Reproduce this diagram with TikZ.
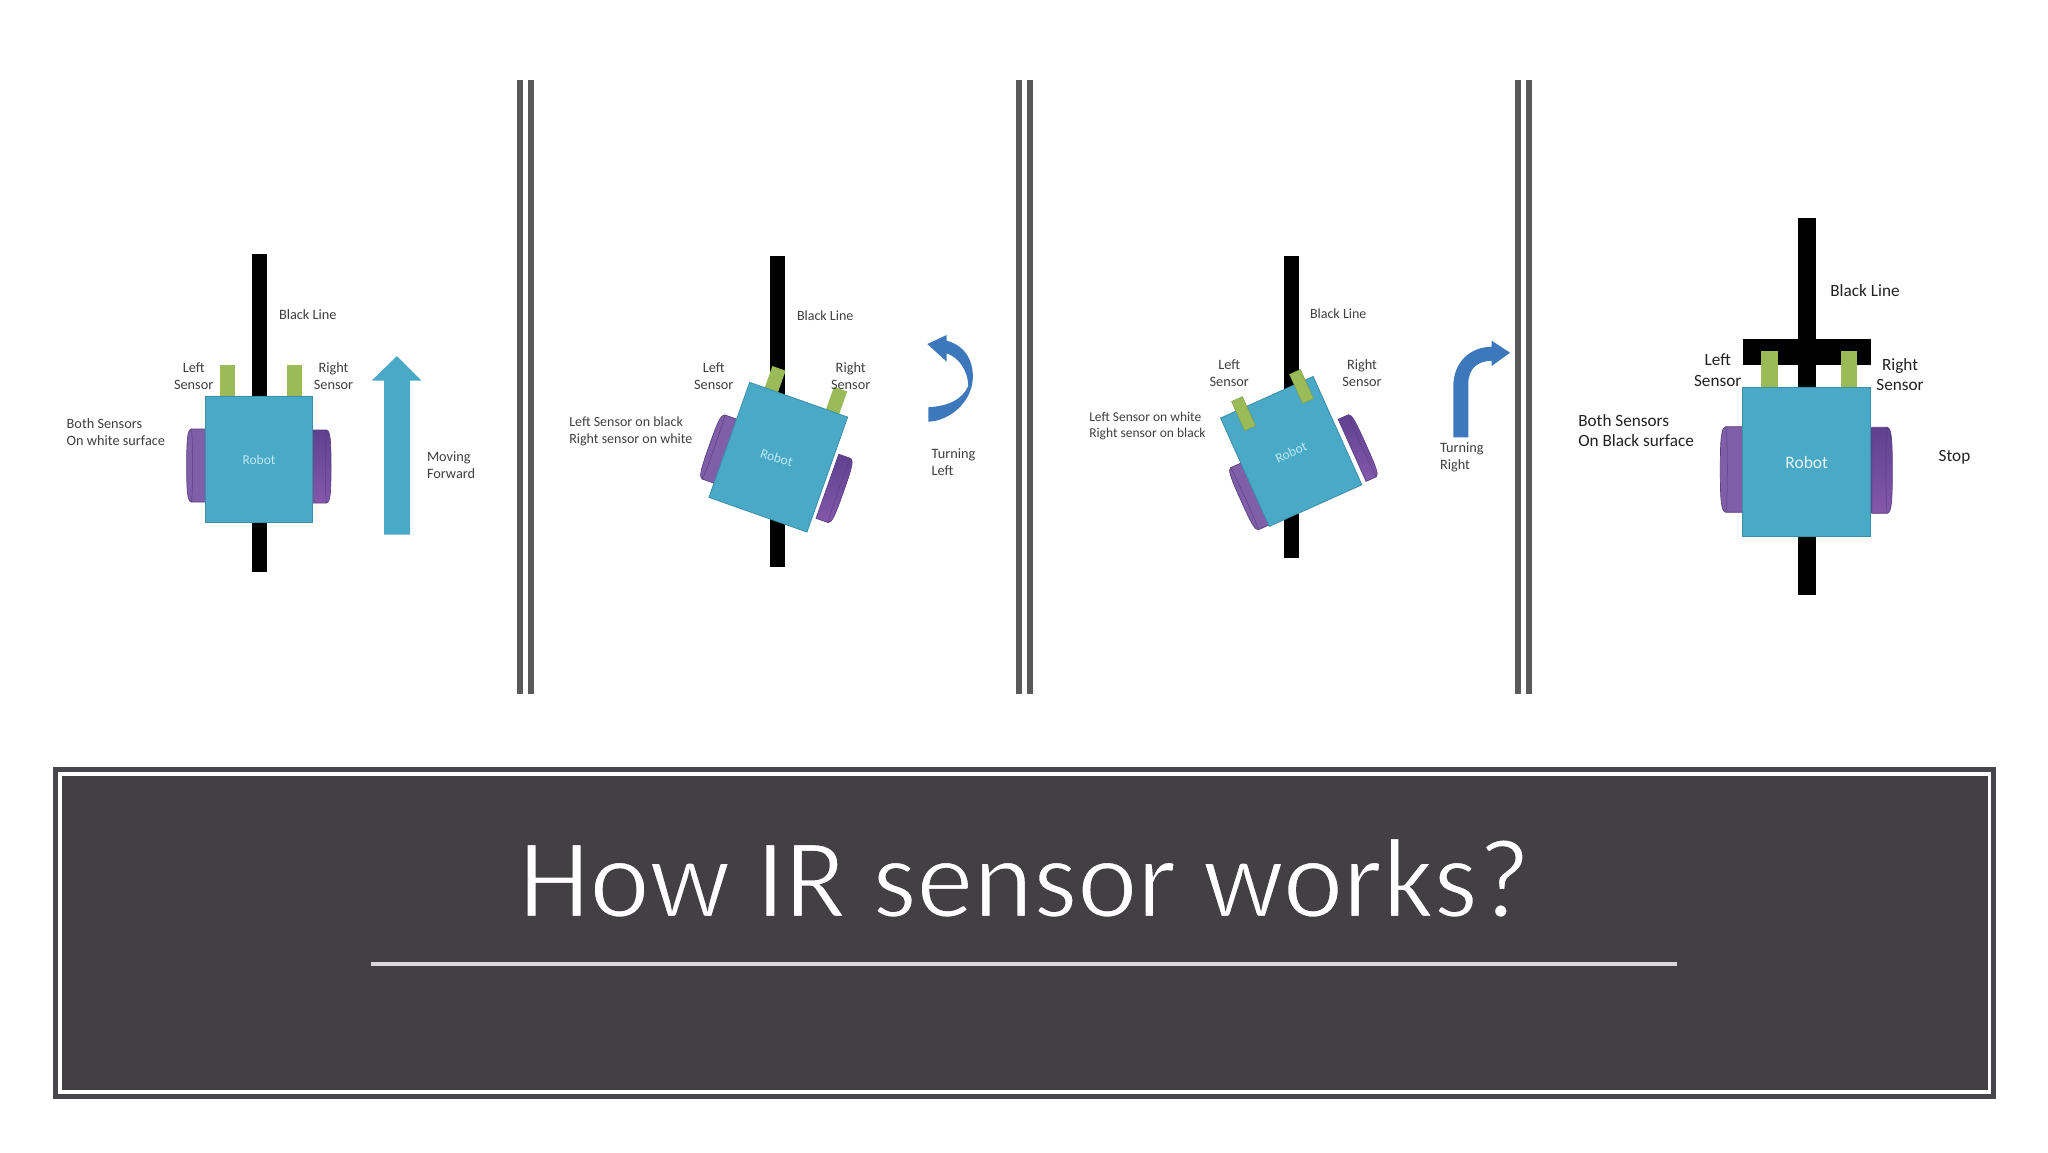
\documentclass[tikz,border=0pt]{standalone}
\usepackage{fontspec}
\setmainfont{Carlito}
\definecolor{panelbg}{HTML}{424043}
\definecolor{framec}{HTML}{47464A}
\definecolor{divc}{HTML}{595959}
\definecolor{robotc}{HTML}{4AA9C6}
\definecolor{roboted}{HTML}{3A8FA9}
\definecolor{sensorc}{HTML}{9BBB59}
\definecolor{wheelA}{HTML}{7E5FA8}
\definecolor{wheelT}{HTML}{5F4190}
\definecolor{wheelB}{HTML}{8458AA}
\definecolor{wheeled}{HTML}{5B3F85}
\definecolor{labelc}{HTML}{3F3F3F}
\definecolor{labeld}{HTML}{222222}
\definecolor{arrowc}{HTML}{3E78BC}
\definecolor{robottxt}{HTML}{BDE8F4}
\tikzset{
  lbl/.style={inner sep=0pt,outer sep=0pt,align=center,text=labelc,font=\fontsize{14.3}{17}\selectfont},
  lblw/.style={lbl,align=left,anchor=west},
  lblbig/.style={inner sep=0pt,outer sep=0pt,align=center,text=labeld,font=\fontsize{17.2}{20.5}\selectfont},
  lblbigw/.style={lblbig,align=left,anchor=west},
  robotbody/.style={fill=robotc,draw=roboted,line width=0.8pt},
  sensorbar/.style={fill=sensorc,draw=none},
  blackbar/.style={fill=black,draw=none},
  divider/.style={fill=divc,draw=none},
  robotlbl/.style={inner sep=0pt,outer sep=0pt,text=robottxt},
  wheelL/.style={fill=wheelA},
  wheelR/.style={top color=wheelT,bottom color=wheelB},
}
% #1 outer x, #2 inner x, #3 top y, #4 bottom y, #5 style
\newcommand{\wheelshape}[5]{%
  \path[#5,draw=wheeled,line width=0.7pt] (#2,#3) -- ({#1+0.25*(#2-#1)},#3)
    .. controls ({#1+0.03*(#2-#1)},{#3+0.01*(#4-#3)}) and (#1,{#3+0.15*(#4-#3)}) .. (#1,{0.5*(#3+#4)})
    .. controls (#1,{#3+0.85*(#4-#3)}) and ({#1+0.03*(#2-#1)},{#3+0.99*(#4-#3)}) .. ({#1+0.25*(#2-#1)},#4)
    -- (#2,#4) -- cycle;
  \draw[wheeled,line width=0.5pt] ({#1+0.25*(#2-#1)},#3)
    .. controls ({#1+0.33*(#2-#1)},{#3+0.15*(#4-#3)}) and ({#1+0.33*(#2-#1)},{#3+0.85*(#4-#3)}) .. ({#1+0.25*(#2-#1)},#4);
}
\begin{document}
\begin{tikzpicture}[x=1pt,y=-1pt]
\useasboundingbox (0,0) rectangle (2048,1152);
\fill[white] (0,0) rectangle (2048,1152);

% dividers
\foreach \xa/\xb in {517/522.7,528/534,1016/1021.7,1027/1032.7,1515/1520.7,1526/1531.7}
  \fill[divider] (\xa,80) rectangle (\xb,694);

% ---------- panel 1
\fill[blackbar] (251.7,254) rectangle (266.7,571.7);
\fill[sensorbar] (220,365) rectangle (235,396);
\fill[sensorbar] (287,365) rectangle (302,396);
\wheelshape{186.7}{205.7}{429}{502}{wheelL}
\wheelshape{331}{312.7}{430}{503}{wheelR}
\fill[robotbody] (205.7,396) rectangle (312.7,522.7);
\fill[robotc] (397,356) -- (421.7,380.7) -- (410,380.7) -- (410,534.7) -- (384,534.7) -- (384,380.7) -- (371.7,380.7) -- cycle;
\node[robotlbl,font=\fontsize{13.5}{16}\selectfont] (r1) at (259,460) {Robot};
\node[lbl,anchor=west] (bl1) at (279,314.5) {Black Line};
\node[lbl] (ls1) at (193.7,376.5) {Left\\Sensor};
\node[lbl] (rs1) at (333.5,376.5) {Right\\Sensor};
\node[lblw] (st1) at (66.7,432.5) {Both Sensors\\On white surface};
\node[lblw] (mv1) at (427,465) {Moving\\Forward};

% ---------- panel 2
\fill[blackbar] (770,256) rectangle (785,567);
\begin{scope}[shift={(778.3,457.2)},rotate=-19.5]
  \wheelshape{-69}{-51}{-22}{46}{wheelL}
  \wheelshape{73}{56}{-23}{45}{wheelR}
  \fill[sensorbar] (-36,-84) rectangle (-22,-58);
  \fill[sensorbar] (29,-85) rectangle (43,-58);
  \fill[robotbody] (-52,-61) rectangle (52,61);
\end{scope}
\node[robotlbl,rotate=-17,font=\fontsize{13.5}{16}\selectfont] (r2) at (776.7,457.7) {Robot};
\fill[arrowc] (927.3,344) -- (946.7,335) -- (946.7,340.7)
  .. controls (966,346) and (974,362) .. (972.7,380)
  .. controls (971,402) and (950,421) .. (928.3,421.7)
  -- (928.3,407.3)
  .. controls (948,406) and (962,400) .. (968.3,386)
  .. controls (968,372) and (960,358) .. (946.7,353.3)
  -- (946.7,361.7) -- cycle;
\node[lbl,font=\fontsize{14}{17}\selectfont,anchor=west] (bl2) at (797,315.8) {Black Line};
\node[lbl] (ls2) at (713.8,376.2) {Left\\Sensor};
\node[lbl] (rs2) at (850.7,376.2) {Right\\Sensor};
\node[lblw,font=\fontsize{14}{17}\selectfont] (st2) at (569.3,431.3) {Left Sensor on black\\Right sensor on white};
\node[lblw] (tl2) at (931.7,462.3) {Turning\\Left};

% ---------- panel 3
\fill[blackbar] (1284,256) rectangle (1298.7,558);
\begin{scope}[shift={(1291.2,451.4)},rotate=24.2]
  \wheelshape{-66}{-50}{-10}{58}{wheelL}
  \wheelshape{71}{56}{-10}{58}{wheelR}
  \fill[robotbody] (-50.75,-59.4) rectangle (50.75,59.4);
  \fill[sensorbar,draw=sensorc!80!black,line width=0.4pt] (-34,-70) rectangle (-22,-38);
  \fill[sensorbar,draw=sensorc!80!black,line width=0.4pt] (30,-71) rectangle (42,-39);
\end{scope}
\node[robotlbl,rotate=25,font=\fontsize{13.5}{16}\selectfont] (r3) at (1291,452.7) {Robot};
\fill[arrowc] (1453.3,437.3) -- (1453.3,386.7)
  .. controls (1453.3,362) and (1470,347) .. (1491.7,346.7)
  -- (1491.7,340.7) -- (1510,352.7) -- (1491.7,366) -- (1491.7,360.7)
  .. controls (1478,361) and (1468.3,368) .. (1468.3,384)
  -- (1468.3,437.3) -- cycle;
\node[lbl,font=\fontsize{14}{17}\selectfont,anchor=west] (bl3) at (1310,313.5) {Black Line};
\node[lbl] (ls3) at (1229.3,373) {Left\\Sensor};
\node[lbl] (rs3) at (1362,373) {Right\\Sensor};
\node[lblw,font=\fontsize{13.5}{16.5}\selectfont] (st3) at (1089.3,426.2) {Left Sensor on white\\Right sensor on black};
\node[lblw] (tr3) at (1440,457.3) {Turning\\Right};

% ---------- panel 4
\fill[blackbar] (1797.7,218.3) rectangle (1815.7,595);
\fill[blackbar] (1742.7,339) rectangle (1870.7,365);
\fill[sensorbar] (1760.7,351) rectangle (1778.3,388);
\fill[sensorbar] (1840.7,351) rectangle (1857,388);
\wheelshape{1720.3}{1742.7}{426.7}{512.3}{wheelL}
\wheelshape{1892.3}{1871.7}{427.3}{513.3}{wheelR}
\fill[robotbody] (1742.7,387.7) rectangle (1870.3,536.7);
\node[robotlbl,text=white!85!robotc,font=\fontsize{17.5}{20}\selectfont] (r4) at (1806.7,462.7) {Robot};
\node[lblbig,anchor=west] (bl4) at (1830.3,290.7) {Black Line};
\node[lblbig] (ls4) at (1717.7,370.2) {Left\\Sensor};
\node[lblbig] (rs4) at (1900,374.4) {Right\\Sensor};
\node[lblbigw] (st4) at (1578.3,430.4) {Both Sensors\\On Black surface};
\node[lblbigw] (sp4) at (1938.7,457.5) {Stop};

% ---------- title band
\draw[framec,line width=4.6pt] (55.5,769.5) rectangle (1993.5,1096.5);
\fill[panelbg] (61.7,776) rectangle (1987.5,1090);
\fill[white!85!black] (371,962.2) rectangle (1677,965.8);
\node[inner sep=0pt,outer sep=0pt,text=white,anchor=base,font=\fontsize{113.7}{120}\selectfont] (title) at (1024.5,917)
  {\special{pdf:code q 2 Tr 2.2 w 0.259 0.251 0.263 RG}How IR sensor works?\special{pdf:code Q}};
\end{tikzpicture}
\end{document}
